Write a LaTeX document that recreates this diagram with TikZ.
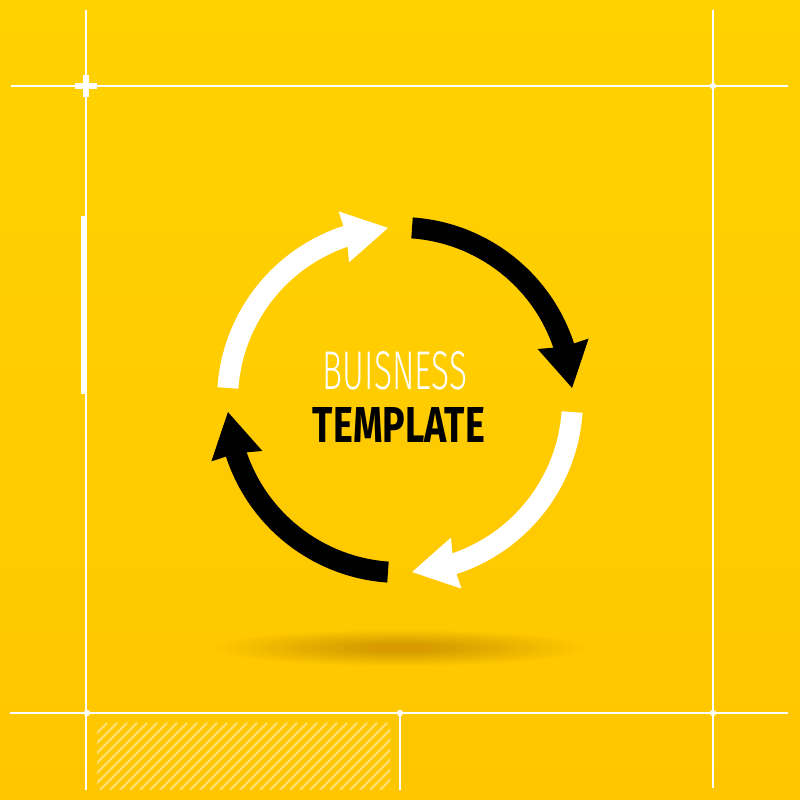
\documentclass[tikz,border=0pt]{standalone}
\usepackage{fontspec}
\usepackage{graphicx}
\usetikzlibrary{calc}
\newfontfamily\lightfont{Fira Sans Light}
\newfontfamily\heavyfont{Fira Sans Bold}
\definecolor{ytop}{HTML}{FFD200}
\definecolor{ybot}{HTML}{FFC600}
\definecolor{shadowc}{HTML}{D89A00}
\tikzset{
  guide/.style={draw=white, line width=1.4pt},
  dot/.style={fill=white},
  hatchline/.style={draw=white, draw opacity=0.42, line width=2.4pt},
  label/.style={inner sep=0pt, outer sep=0pt},
}
\begin{document}
\begin{tikzpicture}[x=1pt,y=1pt]
\useasboundingbox (0,0) rectangle (800,800);
\shade[top color=ytop, bottom color=ybot] (0,0) rectangle (800,800);

% shadow
\foreach \i in {0,...,49}{
  \fill[shadowc, opacity=0.016] (400,152) ellipse [x radius={185-3.5*\i}, y radius={18-0.34*\i}];
}

% guide lines
\coordinate (TL) at (86,714);
\coordinate (TR) at (713,714);
\coordinate (BL) at (87,87);
\coordinate (BM) at (400,87);
\coordinate (BR) at (713,87);
\draw[guide] (11,714) -- (788,714);
\draw[guide] (10,87) -- (788,87);
\draw[guide] (86,790) -- (86,10);
\draw[guide] (713,790) -- (713,12);
\draw[guide] (BM) -- (400,10);
\fill[white] (75,711) rectangle (97,717);
\fill[white] (83,703) rectangle (89,725);
\foreach \p in {BL,BM,BR,TR} \fill[dot] (\p) circle (3.2);
\fill[white] (81,406) rectangle (85.5,584);

% hatch
\begin{scope}
\clip (97,10) rectangle (390,77);
\foreach \x in {20,30,...,400} \draw[hatchline] (\x,10) -- ++(67,67);
\end{scope}

% cycle arrows
\begin{scope}[shift={(400,400)}]
\foreach \k/\col in {0/white,1/black,2/white,3/black}{
  \pgfmathsetmacro{\ta}{176-90*\k}
  \pgfmathsetmacro{\tb}{109-90*\k}
  \pgfmathsetmacro{\tc}{94-90*\k}
  \pgfmathsetmacro{\td}{107.5-90*\k}
  \fill[\col] (\ta:183) arc[start angle=\ta, end angle=\td, radius=183]
     -- (\td:162) arc[start angle=\td, end angle=\ta, radius=162] -- cycle;
  \coordinate (B\k) at (\tb:172.5);
  \coordinate (T\k) at (\tc:172.5);
  \fill[\col] (T\k) -- ($(B\k)!26pt!90:(T\k)$) -- ($(B\k)!3pt!(T\k)$) -- ($(B\k)!26pt!-90:(T\k)$) -- cycle;
}
\end{scope}

% text
\node[label, text=white] (t1) at (395,429) {\resizebox{144pt}{38pt}{\lightfont BUISNESS}};
\node[label, text=black] (t2) at (399,375) {\resizebox{172pt}{35pt}{\heavyfont TEMPLATE}};
\end{tikzpicture}
\end{document}
